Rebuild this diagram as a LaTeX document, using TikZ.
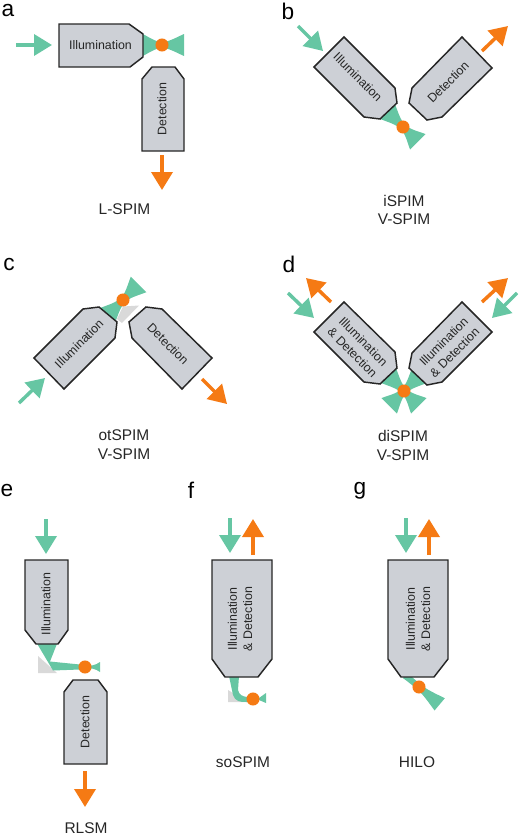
\documentclass[tikz,border=0pt]{standalone}
\usepackage{fontspec}
\setmainfont{Liberation Sans}
\usetikzlibrary{arrows.meta}
\definecolor{beamgreen}{HTML}{66C6A3}
\definecolor{sigorange}{HTML}{F57A14}
\definecolor{boxgray}{HTML}{CDD0D6}
\definecolor{boxedge}{HTML}{262626}
\definecolor{mirror}{HTML}{D9D9D9}
\tikzset{
  objbox/.style={draw=boxedge,fill=boxgray,line width=1.1pt,line join=miter},
  beam/.style={fill=beamgreen},
  mirrorshape/.style={fill=mirror},
  spot/.style={circle,fill=sigorange,minimum size=9.8pt,inner sep=0pt},
  inarrow/.style={draw=beamgreen,line width=2.6pt,-{Triangle[length=13.5pt,width=15.8pt]}},
  outarrow/.style={draw=sigorange,line width=2.6pt,-{Triangle[length=13.5pt,width=15.8pt]}},
  boxtext/.style={font=\fontsize{9.3}{11.5}\selectfont,text=boxedge,align=center,inner sep=0pt},
  caption/.style={font=\fontsize{11.6}{14.2}\selectfont,text=boxedge,align=center,inner sep=0pt},
  panel/.style={font=\fontsize{17}{20}\selectfont,text=black,inner sep=0pt},
}
% centre x, centre y, angle, back length, back half width, front length, front half width
\newcommand{\waistbeam}[7]{%
  \begin{scope}[shift={(#1,#2)},rotate=#3]
    \fill[beam] (-#4,-#5) .. controls ({-0.6*#4},{-0.55*#5-1}) and ({-0.3*#4},-3) .. (0,-3)
      .. controls ({0.3*#6},-3) and ({0.6*#6},{-0.55*#7-1}) .. (#6,-#7)
      -- (#6,#7)
      .. controls ({0.6*#6},{0.55*#7+1}) and ({0.3*#6},3) .. (0,3)
      .. controls ({-0.3*#4},3) and ({-0.6*#4},{0.55*#5+1}) .. (-#4,#5) -- cycle;
  \end{scope}}
\begin{document}
\begin{tikzpicture}[x=0.75pt,y=-0.75pt]
\useasboundingbox (0,0) rectangle (520,835);
% ---- a
\node[panel] (la) at (8,11) {a};
\waistbeam{162}{45}{0}{21}{12}{22}{11}
\draw[objbox] (59,24) -- (129,24) -- (143,34) -- (143,57) -- (130,67) -- (59,67) -- cycle;
\draw[objbox] (142,151) -- (184,151) -- (184,79) -- (175,67) -- (152,67) -- (142,79) -- cycle;
\node[boxtext] (a1) at (100.5,45) {Illumination};
\node[boxtext,rotate=90] (a2) at (162,109) {Detection};
\node[spot] (as) at (162,45) {};
\coordinate (ai) at (16,45); \coordinate (ait) at (52,45);
\draw[inarrow] (ai) -- (ait);
\coordinate (ao) at (162,155); \coordinate (aot) at (162,190);
\draw[outarrow] (ao) -- (aot);
\node[caption] (ca) at (124.5,209) {L-SPIM};
% ---- b
\node[panel] (lb) at (288,11) {b};
\waistbeam{403}{127}{-45}{23}{11}{21}{11}
\draw[objbox] (344,37) -- (314,67) -- (364,117) -- (380,119) -- (397,103) -- (395,88) -- cycle;
\draw[objbox] (462,37) -- (492,68) -- (442,117) -- (427,120) -- (409,103) -- (412,88) -- cycle;
\node[boxtext,rotate=-45] (b1) at (358,77) {Illumination};
\node[boxtext,rotate=45] (b2) at (448,82) {Detection};
\node[spot] (bs) at (403,127) {};
\coordinate (bi) at (298,26); \coordinate (bit) at (323,51);
\draw[inarrow] (bi) -- (bit);
\coordinate (bo) at (482,51); \coordinate (bot) at (508,26);
\draw[outarrow] (bo) -- (bot);
\node[caption] (cb) at (404,210) {iSPIM\\V-SPIM};
% ---- c
\node[panel] (lc) at (9,265) {c};
\fill[mirrorshape] (123,306.5) -- (139,305.5) -- (122,323) -- (117,319) -- cycle;
\waistbeam{123}{300}{45}{23}{11}{22}{11}
\draw[objbox] (64,389) -- (34,358) -- (83,309) -- (99,307) -- (117,322) -- (115,338) -- cycle;
\draw[objbox] (182,389) -- (212,358) -- (162,309) -- (146,307) -- (129,322) -- (132,338) -- cycle;
\node[boxtext,rotate=45] (c1) at (79,344) {Illumination};
\node[boxtext,rotate=-45] (c2) at (168,344) {Detection};
\node[spot] (cs) at (123,300) {};
\coordinate (ci) at (19,403); \coordinate (cit) at (45,378);
\draw[inarrow] (ci) -- (cit);
\coordinate (co) at (202,379); \coordinate (cot) at (227,404);
\draw[outarrow] (co) -- (cot);
\node[caption] (cc) at (124,444.5) {otSPIM\\V-SPIM};
% ---- d
\node[panel] (ld) at (289,264) {d};
\waistbeam{404}{391}{-45}{23}{11}{21}{11}
\waistbeam{404}{391}{45}{21}{11}{23}{11}
\draw[objbox] (344,302) -- (314,332) -- (364,382) -- (380,384) -- (397,368) -- (395,352) -- cycle;
\draw[objbox] (462,302) -- (492,332) -- (442,382) -- (427,385) -- (409,368) -- (412,353) -- cycle;
\node[boxtext,rotate=-45] (d1) at (358,347) {Illumination\\\& Detection};
\node[boxtext,rotate=45] (d2) at (449,347) {Illumination\\\& Detection};
\node[spot] (ds) at (404,391) {};
\coordinate (di) at (288,293); \coordinate (dit) at (314,318);
\draw[inarrow] (di) -- (dit);
\coordinate (do) at (331,302); \coordinate (dot) at (306,278);
\draw[outarrow] (do) -- (dot);
\coordinate (dp) at (482,302); \coordinate (dpt) at (508,278);
\draw[outarrow] (dp) -- (dpt);
\coordinate (dj) at (517,293); \coordinate (djt) at (492,318);
\draw[inarrow] (dj) -- (djt);
\node[caption] (cd) at (403,445.5) {diSPIM\\V-SPIM};
% ---- e
\node[panel] (le) at (7,491) {e};
\fill[mirrorshape] (38,656) -- (38,673) -- (57,673) -- cycle;
\fill[beam] (36.7,643) -- (57.3,643) -- (50,661.5) -- (80,664.5) -- (92,665.5) .. controls (95,665) and (98,663.5) .. (100,662) -- (100,672) .. controls (98,670.5) and (95,669) .. (92,668.5) -- (80,669.5) -- (53,670.5) -- cycle;
\draw[objbox] (25,560) -- (68,560) -- (68,630) -- (58,644) -- (36,644) -- (25,630) -- cycle;
\draw[objbox] (64,764) -- (107,764) -- (107,692) -- (98,680) -- (73,680) -- (64,692) -- cycle;
\node[boxtext,rotate=90] (e1) at (46,604) {Illumination};
\node[boxtext,rotate=90] (e2) at (85,722) {Detection};
\node[spot] (es) at (85,667) {};
\coordinate (ei) at (46,519); \coordinate (eit) at (46,554);
\draw[inarrow] (ei) -- (eit);
\coordinate (eo) at (85,771); \coordinate (eot) at (85,807);
\draw[outarrow] (eo) -- (eot);
\node[caption] (ce) at (86,828) {RLSM};
% ---- f
\node[panel] (lf) at (191,490) {f};
\fill[mirrorshape] (228,690) -- (228,702) -- (248,702) -- cycle;
\fill[beam] (229,676) -- (239,676) -- (238,690) .. controls (239,695) and (243,696.5) .. (247,697) -- (259,698) -- (266,693) -- (266,703) -- (259,700) -- (247,702) .. controls (240,702.5) and (235,701) .. (233,695) -- cycle;
\draw[objbox] (212,560) -- (272,560) -- (272,659) -- (258,677) -- (225,677) -- (212,659) -- cycle;
\node[boxtext,rotate=90] (f1) at (240,619) {Illumination\\\& Detection};
\node[spot] (fs) at (253,699) {};
\coordinate (fi) at (230,518); \coordinate (fit) at (230,553);
\draw[inarrow] (fi) -- (fit);
\coordinate (fo) at (253,555); \coordinate (fot) at (253,519);
\draw[outarrow] (fo) -- (fot);
\node[caption] (cf) at (243,762) {soSPIM};
% ---- g
\node[panel] (lg) at (360,491) {g};
\waistbeam{419}{687}{-40}{18}{3.5}{27}{8}
\draw[objbox] (388,560) -- (448,560) -- (448,659) -- (434,677) -- (401,677) -- (388,659) -- cycle;
\node[boxtext,rotate=90] (g1) at (418,619) {Illumination\\\& Detection};
\node[spot] (gs) at (419,687) {};
\coordinate (gi) at (406,518); \coordinate (git) at (406,553);
\draw[inarrow] (gi) -- (git);
\coordinate (go) at (429,555); \coordinate (got) at (429,519);
\draw[outarrow] (go) -- (got);
\node[caption] (cg) at (417,762) {HILO};
\end{tikzpicture}
\end{document}
